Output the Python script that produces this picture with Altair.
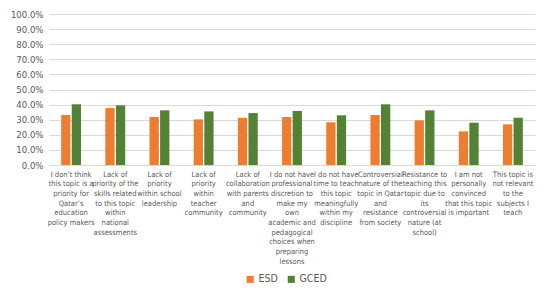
import altair as alt
import pandas as pd

categories = [
    "I don\u2019t think|this topic is a|priority for|Qatar\u2019s|education|policy makers",
    "Lack of|priority of the|skills related|to this topic|within|national|assessments",
    "Lack of|priority|within school|leadership",
    "Lack of|priority|within|teacher|community",
    "Lack of|collaboration|with parents|and|community",
    "I do not have|professional|discretion to|make my|own|academic and|pedagogical|choices when|preparing|lessons",
    "I do not have|time to teach|this topic|meaningfully|within my|discipline",
    "Controversial|nature of the|topic in Qatar|and|resistance|from society",
    "Resistance to|teaching this|topic due to|its|controversial|nature (at|school)",
    "I am not|personally|convinced|that this topic|is important",
    "This topic is|not relevant|to the|subjects I|teach",
]
esd = [0.331, 0.377, 0.318, 0.302, 0.313, 0.318, 0.283, 0.331, 0.296, 0.223, 0.269]
gced = [0.402, 0.395, 0.362, 0.355, 0.344, 0.358, 0.329, 0.402, 0.362, 0.280, 0.313]
series = ["ESD", "GCED"]
colors = ["#ED7D31", "#548235"]
y_ticks = [i / 10 for i in range(11)]

rows = []
for c, a, b in zip(categories, esd, gced):
    rows.append({"cat": c, "series": "ESD", "value": a})
    rows.append({"cat": c, "series": "GCED", "value": b})
df = pd.DataFrame(rows)

font = "DejaVu Sans Condensed"
grey = "#595959"

chart = alt.Chart(df).mark_bar().encode(
    x=alt.X("cat:N", sort=categories,
            scale=alt.Scale(paddingInner=0.55, paddingOuter=0.275),
            axis=alt.Axis(title=None, labelAngle=0, labelExpr="split(datum.label, '|')",
                          labelFont=font, labelFontSize=7.5, labelColor=grey,
                          labelLineHeight=9.7, labelOverlap=False, labelPadding=5,
                          ticks=False, domainColor="#D9D9D9", labelBaseline="top")),
    xOffset=alt.XOffset("series:N", sort=series, scale=alt.Scale(paddingInner=0.12)),
    y=alt.Y("value:Q", scale=alt.Scale(domain=[0, 1]),
            axis=alt.Axis(title=None, values=y_ticks, format=".1%", labelFont=font,
                          labelFontSize=9.5, labelColor=grey, ticks=False, domain=False,
                          gridColor="#D9D9D9", labelPadding=6)),
    color=alt.Color("series:N", sort=series,
                    scale=alt.Scale(domain=series, range=colors),
                    legend=alt.Legend(title=None, orient="none", direction="horizontal",
                                      legendX=196, legendY=260, symbolType="square",
                                      labelFont=font, labelFontSize=10.5, labelColor=grey,
                                      symbolSize=50, symbolStrokeWidth=0, columnPadding=8,
                                      labelOffset=3)),
).properties(
    width=486, height=151,
    autosize=alt.AutoSizeParams(type="none"),
    padding={"left": 41, "top": 6, "right": 7, "bottom": 125},
).configure_view(stroke=None)

chart.save("out.html", embed_options={"renderer": "svg", "actions": False})
